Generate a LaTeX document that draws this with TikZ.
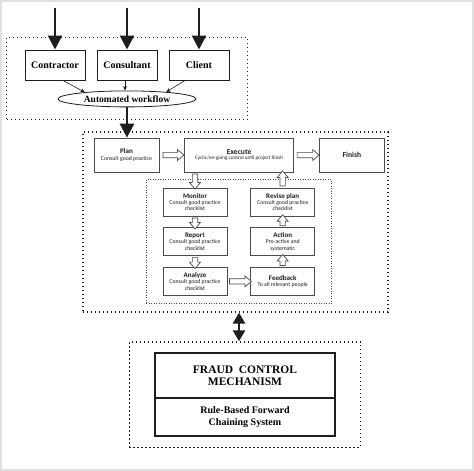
\documentclass[tikz,border=0pt]{standalone}
\usepackage{fontspec}
\setmainfont{Liberation Serif}
\newfontfamily\boxfont{Carlito}
\usetikzlibrary{positioning, arrows.meta, shapes.geometric, shapes.arrows, fit}
\definecolor{frame}{RGB}{224, 224, 224}
\definecolor{ink}{RGB}{30, 30, 30}
\definecolor{soft}{RGB}{75, 75, 75}
\newcommand{\stagetext}[2]{{\fontsize{7}{8}\selectfont\bfseries #1}\\#2}

\begin{document}
\begin{tikzpicture}[
        x=1pt, y=1pt,
        party/.style={draw=ink, line width=1pt, minimum width=60pt, minimum height=30pt, inner sep=1pt, font=\bfseries\fontsize{10}{12}\selectfont},
        flow/.style={draw=ink, ellipse, line width=0.8pt, minimum width=138pt, minimum height=16pt, inner sep=0pt, font=\bfseries\fontsize{9.5}{11}\selectfont},
        dotbox/.style={draw=ink, line width=1.2pt, dash pattern=on 1.2pt off 2.8pt, inner sep=0pt},
        loopbox/.style={draw=soft, line width=0.7pt, dash pattern=on 0.9pt off 1.6pt},
        stage/.style={draw=soft, line width=0.7pt, minimum width=64pt, minimum height=28pt, align=center, inner sep=1pt, text=ink, font=\boxfont\fontsize{5.8}{6.4}\selectfont},
        fraudbox/.style={draw=ink, line width=1.2pt, minimum width=180pt, align=center, font=\bfseries},
        bigarrow/.style={draw=ink, line width=2.6pt, -{Triangle[length=14pt, width=14pt]}},
        thinarrow/.style={draw=ink, line width=0.6pt, -{Stealth[length=4.5pt, width=4pt]}},
        blk/.style={single arrow, draw=soft, fill=white, line width=0.7pt, inner sep=2.3pt, single arrow head extend=2.8pt, single arrow tip angle=80, sloped, anchor=center}
    ]
        \useasboundingbox (0,0) rectangle (474,-471);
        \draw[frame, line width=4pt, fill=white] (0,0) rectangle (474,-471);

        % stakeholders
        \node[party] (contractor) at (55,-65) {Contractor};
        \node[party, right=11pt of contractor] (consultant) {Consultant};
        \node[party, right=11pt of consultant] (client) {Client};
        \node[flow, below=10pt of consultant] (wflow) {Automated workflow};
        \node[dotbox, fit=(contractor)(client)(wflow), inner xsep=18pt, inner ysep=12pt] (inputs) {};

        \coordinate[above=42pt of contractor.north] (src1);
        \coordinate[above=42pt of consultant.north] (src2);
        \coordinate[above=42pt of client.north] (src3);
        \draw[bigarrow] (src1) -- (contractor);
        \draw[bigarrow] (src2) -- (consultant);
        \draw[bigarrow] (src3) -- (client);

        \draw[thinarrow] ([xshift=8pt]contractor.south) -- (wflow.171);
        \draw[thinarrow] ([xshift=-2pt]consultant.south) -- ([xshift=-2pt]wflow.north);
        \draw[thinarrow] ([xshift=-14pt]client.south) -- (wflow.10);

        % process
        \node[stage, minimum width=65pt, minimum height=34pt] (plan) at (126.5,-155) {\stagetext{Plan}{Consult good practice}};
        \node[stage, minimum width=109pt, minimum height=34pt, right=25pt of plan] (execute) {{\fontsize{7.6}{9}\selectfont\bfseries Execute}\\[-0.5pt]{\fontsize{5.2}{6}\selectfont Cyclic/on-going control until project finish}};
        \node[stage, minimum width=65pt, minimum height=34pt, right=25pt of execute] (finish) {{\fontsize{7.6}{9}\selectfont\bfseries Finish}};
        \node[dotbox, minimum width=305pt, minimum height=180pt] (process) at (235.5,-222) {};

        \draw[bigarrow] (wflow) -- (wflow |- plan.north);

        \node[stage] (monitor) at (195,-202) {\stagetext{Monitor}{Consult good practice\\checklist}};
        \node[stage, below=11pt of monitor] (report) {\stagetext{Report}{Consult good practice\\checklist}};
        \node[stage, below=11pt of report] (analyze) {\stagetext{Analyze}{Consult good practice\\checklist}};
        \node[stage, right=23pt of monitor] (revise) {\stagetext{Revise plan}{Consult good practice\\checklist}};
        \node[stage, below=11pt of revise] (action) {\stagetext{Action}{Pro-active and\\systematic}};
        \node[stage, below=11pt of action] (feedback) {\stagetext{Feedback}{To all relevant people}};
        \node[loopbox, fit=(monitor)(feedback), inner xsep=16.5pt, inner ysep=8pt] (loop) {};

        \path (plan.east) -- node[blk, minimum height=21pt] {} (execute.west);
        \path (execute.east) -- node[blk, minimum height=22pt] {} (finish.west);
        \path (execute.south -| monitor.north) -- node[blk, minimum height=15pt] {} (monitor.north);
        \path (monitor.south) -- node[blk, minimum height=11pt] {} (report.north);
        \path (report.south) -- node[blk, minimum height=11pt] {} (analyze.north);
        \path (analyze.east) -- node[blk, minimum height=22pt] {} (feedback.west);
        \path (feedback.north) -- node[blk, minimum height=11pt] {} (action.south);
        \path (action.north) -- node[blk, minimum height=11pt] {} (revise.south);
        \path (revise.north) -- node[blk, minimum height=15pt] {} (revise.north |- execute.south);

        % fraud control
        \node[fraudbox, minimum height=45pt, font=\bfseries\fontsize{11.5}{12.5}\selectfont] (fraud) at (245,-375.5) {FRAUD\ \ CONTROL\\MECHANISM};
        \node[fraudbox, minimum height=38pt, below=-1.2pt of fraud, font=\bfseries\fontsize{10}{12}\selectfont] (rule) {Rule-Based Forward\\Chaining System};
        \node[dotbox, fit=(fraud)(rule), inner xsep=25pt, inner ysep=10.5pt] (guard) {};

        \draw[bigarrow, {Triangle[length=11pt, width=12pt]}-{Triangle[length=11pt, width=12pt]}] ([xshift=3.5pt]process.south) -- ([xshift=3.5pt]process.south |- guard.north);
    \end{tikzpicture}
\end{document}
